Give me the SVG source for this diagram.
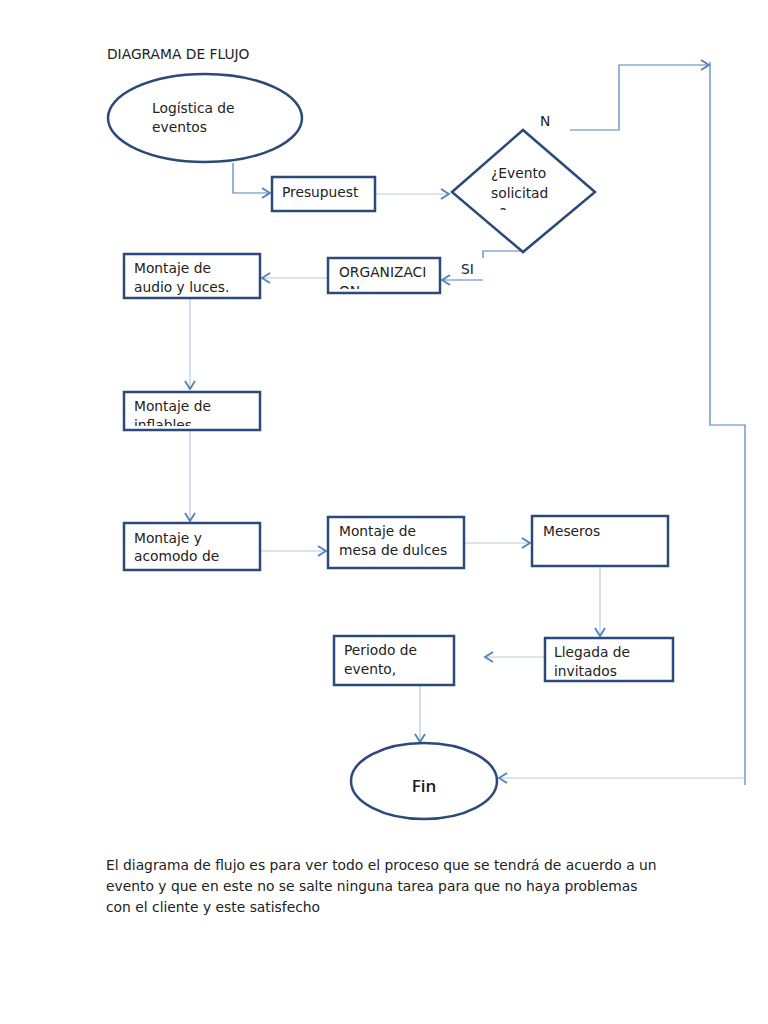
<svg xmlns="http://www.w3.org/2000/svg" width="768" height="1024" viewBox="0 0 768 1024">
<style>
.t{font-family:"DejaVu Sans","Liberation Sans",sans-serif;font-size:13.8px;fill:#222}
.p{font-size:13.85px}
.box{fill:#fff;stroke:#2c4a78;stroke-width:2.5}
.c{fill:none;stroke:#4f81bd;stroke-width:1.2}
.cl{fill:none;stroke:#b8cbe4;stroke-width:1.2}
</style>
<defs>
<marker id="ah" markerWidth="12" markerHeight="12" refX="9" refY="6" orient="auto" markerUnits="userSpaceOnUse">
<path d="M1,1 L9,6 L1,11" fill="none" stroke="#4f81bd" stroke-width="1.8"/>
</marker>
<clipPath id="cpOrg"><rect x="330" y="259" width="108" height="30"/></clipPath>
<clipPath id="cpInf"><rect x="125" y="393" width="133" height="33"/></clipPath>
<clipPath id="cpDia"><rect x="480" y="160" width="90" height="50"/></clipPath>
<clipPath id="cpAud"><rect x="125" y="254" width="133" height="41"/></clipPath>
</defs>
<rect width="768" height="1024" fill="#fff"/>
<text class="t" x="107" y="59">DIAGRAMA DE FLUJO</text>

<g id="connectors">
<polyline class="c" points="233,163 233,193 270,193" marker-end="url(#ah)"/>
<line class="cl" x1="376" y1="194" x2="449" y2="194" marker-end="url(#ah)"/>
<polyline class="c" points="570,130 619,130 619,65 709,65" marker-end="url(#ah)"/>
<polyline class="c" points="710,62 710,425 745,425 745,785"/>
<line class="cl" x1="745" y1="778" x2="499" y2="778" marker-end="url(#ah)"/>
<polyline class="c" points="523,251 483,251 483,258"/>
<polyline class="c" points="483,280 442,280" marker-end="url(#ah)"/>
<line class="cl" x1="328" y1="278" x2="262" y2="278" marker-end="url(#ah)"/>
<line class="cl" x1="190" y1="299" x2="190" y2="389" marker-end="url(#ah)"/>
<line class="cl" x1="190" y1="431" x2="190" y2="521" marker-end="url(#ah)"/>
<line class="cl" x1="261" y1="551" x2="326" y2="551" marker-end="url(#ah)"/>
<line class="cl" x1="465" y1="543" x2="530" y2="543" marker-end="url(#ah)"/>
<line class="cl" x1="600" y1="567" x2="600" y2="636" marker-end="url(#ah)"/>
<line class="cl" x1="544" y1="657" x2="485" y2="657" marker-end="url(#ah)"/>
<line class="cl" x1="420" y1="686" x2="420" y2="742" marker-end="url(#ah)"/>
<text class="t" x="540" y="126">N</text>
<text class="t" x="461" y="274">SI</text>
</g>

<g id="inicio">
<ellipse class="box" cx="205" cy="118" rx="97" ry="44"/>
<text class="t" x="152" y="113">Logística de</text>
<text class="t" x="152" y="132">eventos</text>
</g>

<g id="presupuesto">
<rect class="box" x="272" y="177" width="103" height="34"/>
<text class="t" x="282" y="197">Presupuest</text>
</g>

<g id="decision">
<polygon class="box" points="452,192 523,130 595,192 523,252"/>
<g clip-path="url(#cpDia)">
<text class="t" x="491" y="178">¿Evento</text>
<text class="t" x="491" y="198">solicitad</text>
<text class="t" x="491" y="218">o?</text>
</g>
</g>

<g id="organizacion">
<rect class="box" x="328" y="258" width="112" height="35"/>
<g clip-path="url(#cpOrg)"><text class="t" x="339" y="277">ORGANIZACI</text><text class="t" x="339" y="296">ON</text></g>
</g>

<g id="audio">
<rect class="box" x="124" y="254" width="136" height="44"/>
<g clip-path="url(#cpAud)"><text class="t" x="134" y="273">Montaje de</text><text class="t" x="134" y="292">audio y luces.</text></g>
</g>

<g id="inflables">
<rect class="box" x="124" y="392" width="136" height="38"/>
<g clip-path="url(#cpInf)"><text class="t" x="134" y="411">Montaje de</text><text class="t" x="134" y="430">inflables</text></g>
</g>

<g id="acomodo">
<rect class="box" x="124" y="523" width="136" height="47"/>
<text class="t" x="134" y="543">Montaje y</text>
<text class="t" x="134" y="561">acomodo de</text>
</g>

<g id="dulces">
<rect class="box" x="328" y="517" width="136" height="51"/>
<text class="t" x="339" y="536">Montaje de</text>
<text class="t" x="339" y="555">mesa de dulces</text>
</g>

<g id="meseros">
<rect class="box" x="532" y="516" width="136" height="50"/>
<text class="t" x="543" y="536">Meseros</text>
</g>

<g id="llegada">
<rect class="box" x="545" y="638" width="128" height="43"/>
<text class="t" x="554" y="657">Llegada de</text>
<text class="t" x="554" y="676">invitados</text>
</g>

<g id="periodo">
<rect class="box" x="334" y="636" width="120" height="49"/>
<text class="t" x="344" y="655">Periodo de</text>
<text class="t" x="344" y="674">evento,</text>
</g>

<g id="fin">
<ellipse class="box" cx="424" cy="781" rx="73" ry="38"/>
<text x="424" y="792" text-anchor="middle" style="font-family:'Open Sans','Liberation Sans',sans-serif;font-size:17px;font-weight:600;fill:#1a1a1a">Fin</text>
</g>

<text class="t p" x="106" y="870">El diagrama de flujo es para ver todo el proceso que se tendrá de acuerdo a un</text>
<text class="t p" x="106" y="891">evento y que en este no se salte ninguna tarea para que no haya problemas</text>
<text class="t p" x="106" y="912">con el cliente y este satisfecho</text>
</svg>
